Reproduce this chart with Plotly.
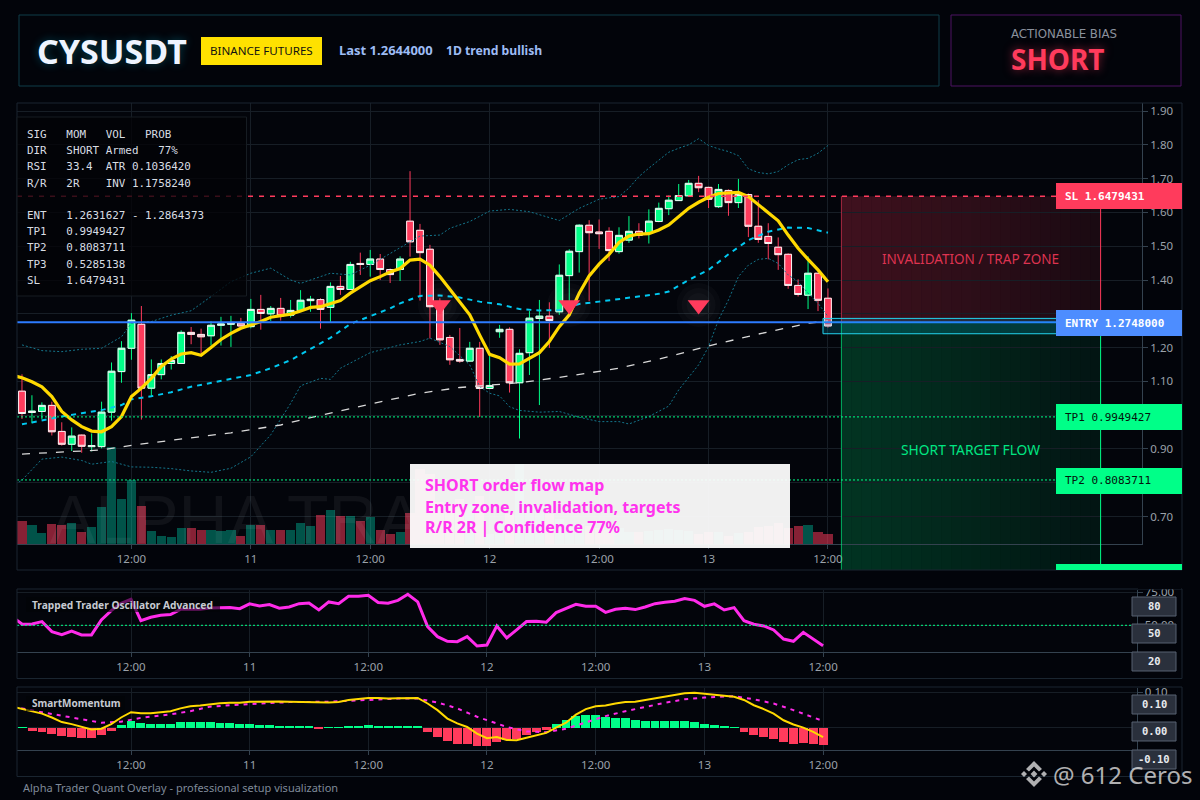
import plotly.graph_objects as go

BG = "#02040a"
RED = "#ff3b5c"
GREEN = "#00ff88"
YELLOW = "#ffd900"
CYAN = "#00c8f0"
MAGENTA = "#ff2bea"
GRID = "#171e26"
AXIS = "#34424f"
TICK = "#9aa1a9"
SANS = "Noto Sans"
MONO = "DejaVu Sans Mono"

# candles
OPEN = [1.071, 1.008, 1.011, 1.029, .952, .914, .941, .907, .907, 1.009, 1.129, 1.198, 1.269, 1.080, 1.120, 1.153, 1.153,
        1.245, 1.239, 1.235, 1.266, 1.269, 1.272, 1.262, 1.313, 1.300, 1.316, 1.296, 1.310, 1.339, 1.342, 1.319, 1.381,
        1.372, 1.449, 1.446, 1.462, 1.431, 1.431, 1.574, 1.547, 1.491, 1.321, 1.230, 1.165, 1.160, 1.198, 1.079, 1.247,
        1.254, 1.096, 1.185, 1.286, 1.293, 1.306, 1.413, 1.484, 1.562, 1.542, 1.544, 1.484, 1.518, 1.544, 1.538, 1.573,
        1.611, 1.635, 1.649, 1.686, 1.674, 1.617, 1.665, 1.629, 1.653, 1.559, 1.529, 1.497, 1.476, 1.384, 1.355, 1.420, 1.346]
HIGH = [1.121, 1.059, 1.038, 1.040, .979, .964, .943, .946, 1.040, 1.156, 1.219, 1.302, 1.323, 1.165, 1.165, 1.175, 1.251,
        1.261, 1.256, 1.278, 1.291, 1.294, 1.288, 1.344, 1.356, 1.323, 1.347, 1.341, 1.370, 1.353, 1.346, 1.393, 1.412,
        1.454, 1.481, 1.489, 1.477, 1.434, 1.470, 1.722, 1.566, 1.504, 1.346, 1.237, 1.258, 1.217, 1.217, 1.180, 1.267,
        1.260, 1.195, 1.308, 1.341, 1.334, 1.446, 1.491, 1.565, 1.577, 1.579, 1.556, 1.556, 1.589, 1.568, 1.609, 1.629,
        1.650, 1.684, 1.696, 1.708, 1.676, 1.684, 1.668, 1.699, 1.656, 1.636, 1.568, 1.526, 1.479, 1.402, 1.470, 1.420, 1.375]
LOW = [.989, .976, .988, .940, .910, .894, .889, .893, .902, .984, 1.096, 1.164, .987, 1.056, 1.106, 1.135, 1.152,
       1.210, 1.183, 1.206, 1.206, 1.202, 1.262, 1.257, 1.253, 1.279, 1.280, 1.289, 1.305, 1.306, 1.256, 1.276, 1.356,
       1.370, 1.415, 1.410, 1.400, 1.391, 1.397, 1.469, 1.339, 1.227, 1.208, 1.149, 1.155, 1.159, .995, 1.077, 1.229,
       1.067, .931, 1.119, 1.030, 1.199, 1.297, 1.321, 1.422, 1.338, 1.492, 1.456, 1.478, 1.510, 1.523, 1.508, 1.571,
       1.592, 1.634, 1.648, 1.660, 1.613, 1.613, 1.590, 1.613, 1.527, 1.510, 1.461, 1.430, 1.374, 1.351, 1.314, 1.308, 1.259]
CLOSE = [1.005, 1.012, 1.029, .951, .914, .938, .908, .910, 1.009, 1.130, 1.198, 1.281, 1.080, 1.120, 1.153, 1.162, 1.245,
         1.239, 1.232, 1.266, 1.270, 1.272, 1.264, 1.313, 1.301, 1.316, 1.294, 1.310, 1.340, 1.343, 1.313, 1.381, 1.372,
         1.446, 1.446, 1.462, 1.431, 1.416, 1.462, 1.513, 1.481, 1.321, 1.223, 1.164, 1.160, 1.198, 1.079, 1.088, 1.254,
         1.096, 1.183, 1.287, 1.293, 1.280, 1.414, 1.485, 1.562, 1.540, 1.537, 1.487, 1.532, 1.544, 1.532, 1.574, 1.612,
         1.636, 1.650, 1.686, 1.673, 1.639, 1.668, 1.629, 1.653, 1.559, 1.520, 1.508, 1.475, 1.384, 1.357, 1.420, 1.340, 1.264]
VOLUME = [23, 19, 11, 20, 19, 21, 12, 17, 37, 97, 45, 64, 38, 13, 8, 7, 16, 16, 14, 14, 13, 14, 8, 19, 19, 14, 14, 14, 21, 18,
          29, 34, 28, 28, 23, 27, 14, 10, 12, 31, 75, 70, 42, 40, 45, 40, 48, 10, 22, 30, 80, 40, 38, 30, 25, 20, 20, 18, 16, 14,
          16, 12, 12, 13, 14, 15, 14, 13, 10, 12, 12, 8, 11, 12, 17, 18, 21, 16, 18, 19, 12, 10]

# overlays
EMA_IDX = list(range(-1, 82))
EMA = [1.118, 1.111, 1.099, 1.084, 1.055, 1.011, .986, .966, .953, .951, .966, .996, 1.055, 1.080, 1.109, 1.144, 1.166, 1.181,
       1.185, 1.177, 1.200, 1.224, 1.242, 1.257, 1.267, 1.277, 1.290, 1.295, 1.299, 1.308, 1.319, 1.321, 1.331, 1.339, 1.361,
       1.380, 1.398, 1.410, 1.424, 1.434, 1.459, 1.462, 1.444, 1.410, 1.373, 1.336, 1.297, 1.237, 1.180, 1.170, 1.151, 1.152,
       1.168, 1.185, 1.218, 1.262, 1.297, 1.361, 1.412, 1.447, 1.476, 1.511, 1.530, 1.536, 1.537, 1.548, 1.563, 1.587, 1.612,
       1.630, 1.645, 1.656, 1.658, 1.659, 1.647, 1.622, 1.599, 1.575, 1.533, 1.494, 1.461, 1.430, 1.395]
MID_IDX = [0, 2, 4, 6, 8, 10, 11, 13, 15, 17, 19, 21, 23, 25, 27, 29, 31, 33, 35, 37, 38, 40, 42, 44, 46, 48, 50, 52, 54, 56,
           58, 60, 62, 64, 65, 67, 69, 71, 73, 75, 77, 79, 81]
MID = [.973, .985, .996, 1.006, 1.015, 1.030, 1.047, 1.056, 1.068, 1.084, 1.096, 1.106, 1.119, 1.139, 1.163, 1.196, 1.229,
       1.270, 1.294, 1.316, 1.331, 1.353, 1.354, 1.348, 1.336, 1.328, 1.314, 1.310, 1.311, 1.329, 1.336, 1.343, 1.351, 1.359,
       1.366, 1.400, 1.430, 1.476, 1.518, 1.543, 1.555, 1.554, 1.540]
UPPER_IDX = [0, 2, 4, 6, 8, 10, 11, 13, 15, 17, 19, 21, 23, 25, 27, 28, 31, 33, 35, 37, 38, 40, 42, 43, 45, 47, 49, 51, 54, 56,
             58, 60, 61, 62, 63, 64, 65, 66, 67, 68, 69, 70, 71, 72, 73, 74, 75, 76, 77, 78, 79, 80, 81]
UPPER = [1.208, 1.191, 1.188, 1.195, 1.198, 1.232, 1.272, 1.277, 1.296, 1.309, 1.351, 1.395, 1.420, 1.435, 1.400, 1.390, 1.420,
         1.415, 1.444, 1.479, 1.494, 1.530, 1.533, 1.553, 1.573, 1.604, 1.609, 1.602, 1.576, 1.612, 1.639, 1.647, 1.672, 1.706,
         1.731, 1.755, 1.778, 1.790, 1.800, 1.818, 1.798, 1.788, 1.780, 1.768, 1.729, 1.718, 1.714, 1.721, 1.741, 1.756, 1.760,
         1.775, 1.798]
LOWER_IDX = [-1, 0, 2, 4, 6, 7, 9, 11, 13, 15, 17, 19, 21, 23, 25, 27, 28, 30, 31, 32, 35, 38, 40, 41, 43, 45, 46, 47, 48, 49, 50,
             52, 54, 56, 58, 60, 61, 63, 65, 66, 68, 69, 70, 71, 72, 73, 74, 75, 76, 77, 78, 79, 80, 81]
LOWER = [.790, .808, .870, .876, .866, .855, .863, .847, .846, .842, .835, .831, .843, .877, .942, 1.035, 1.087, 1.109, 1.106,
         1.139, 1.185, 1.208, 1.218, 1.228, 1.203, 1.149, 1.085, 1.065, 1.057, 1.025, 1.014, 1.009, 1.011, .994, .981, .981,
         .974, .996, 1.027, 1.075, 1.149, 1.203, 1.282, 1.341, 1.410, 1.444, 1.461, 1.464, 1.449, 1.415, 1.395, 1.361, 1.331, 1.292]
SLOW_IDX = [0, 8, 11, 15, 21, 26, 29, 35, 40, 44, 50, 55, 60, 65, 69, 74, 79, 81]
SLOW = [.885, .897, .911, .925, .948, .971, .993, 1.033, 1.065, 1.082, 1.096, 1.116, 1.139, 1.173, 1.205, 1.240, 1.272, 1.279]
SIGNAL_IDX = [42, 55, 68]
SIGNAL_PRICE = [1.326, 1.326, 1.326]

# oscillator panels
OSC_IDX = list(range(-1, 82))
OSC = [56.3, 50.8, 51.0, 52.8, 45.2, 42.9, 45.7, 42.7, 42.7, 54.0, 61.1, 66.7, 69.7, 53.5, 56.1, 57.6, 58.1, 62.1, 62.1, 62.1,
       63.1, 63.1, 63.4, 62.6, 66.2, 64.6, 65.7, 62.9, 63.9, 66.4, 66.9, 61.6, 67.7, 66.4, 72.0, 72.0, 72.7, 67.2, 66.7, 68.9,
       73.5, 67.7, 49.0, 41.4, 37.9, 37.6, 41.4, 34.3, 35.1, 49.5, 40.4, 46.5, 52.8, 53.0, 52.3, 59.6, 62.9, 65.9, 64.4, 64.4,
       59.8, 62.1, 62.9, 61.9, 63.9, 66.4, 67.4, 68.2, 70.2, 68.9, 64.4, 66.2, 61.6, 63.4, 53.5, 50.8, 49.5, 46.5, 39.6, 37.9,
       44.7, 39.4, 34.6]
MOM_HIST = [.001, -.0086, -.0115, -.017, -.023, -.026, -.029, -.029, -.020, -.0086, .0086, .020, .0144, .0115, .0115, .0115,
            .0173, .0173, .0173, .0173, .0144, .0144, .0115, .0115, .0086, .0086, .0058, .0029, .0029, .0029, -.001, .001, .001,
            .0058, .0058, .0086, .0058, .0029, .0029, .0029, .0029, -.0106, -.026, -.037, -.046, -.046, -.052, -.052, -.040,
            -.0346, -.032, -.020, -.0134, -.005, .0115, .023, .0346, .0374, .0374, .032, .029, .029, .023, .020, .020, .020,
            .020, .020, .0173, .0115, .0086, .003, .001, -.0115, -.020, -.026, -.032, -.040, -.046, -.043, -.046, -.049]
MOM_IDX = list(range(-1, 82))
MOM = [.059, .052, .044, .039, .028, .015, .009, .001, -.006, -.004, .009, .028, .043, .040, .040, .043, .046, .054, .060, .062,
       .066, .069, .070, .070, .073, .074, .075, .074, .073, .072, .071, .070, .071, .072, .078, .081, .084, .084, .082, .083,
       .084, .084, .068, .049, .025, .011, .001, -.018, -.031, -.028, -.036, -.037, -.030, -.023, -.016, -.001, .013, .036, .052,
       .060, .062, .068, .072, .073, .078, .083, .087, .091, .097, .099, .096, .095, .091, .087, .078, .063, .052, .039, .020,
       .008, -.001, -.013, -.028]
MOM_SIG_IDX = [-1, 0, 2, 4, 6, 8, 10, 12, 15, 17, 19, 21, 23, 27, 31, 35, 38, 40, 42, 44, 46, 48, 49, 51, 53, 55, 57, 59, 61, 63,
               65, 67, 69, 72, 74, 76, 78, 81]
MOM_SIG = [.057, .054, .043, .034, .023, .013, .016, .027, .037, .046, .059, .063, .066, .072, .073, .078, .082, .082, .071, .054,
           .030, .011, .001, -.012, -.014, -.004, .015, .032, .046, .059, .070, .080, .085, .089, .080, .068, .049, .018]

X_TICKS = [11, 23, 35, 47, 58, 69, 81]
X_LABELS = ["12:00", "11", "12:00", "12", "12:00", "13", "12:00"]
PRICE_TICKS = [1.9, 1.8, 1.7, 1.6, 1.5, 1.4, 1.3, 1.2, 1.1, 1.0, 0.9, 0.8, 0.7]
SL = 1.6479431
ENTRY = 1.2748
ENTRY_HIGH = 1.2864
ENTRY_LOW = 1.241
TP1 = 0.9949427
TP2 = 0.8083711
TP3 = 0.5285138
ZONE_LEFT = 82.35
ZONE_RIGHT = 108.4
PANEL_LINES = ["SIG   MOM   VOL   PROB", "DIR   SHORT Armed   77%", "RSI   33.4  ATR 0.1036420", "R/R   2R    INV 1.1758240", "",
               "ENT   1.2631627 - 1.2864373", "TP1   0.9949427", "TP2   0.8083711", "TP3   0.5285138", "SL    1.6479431"]
NOTE_LINES = ["SHORT order flow map", "Entry zone, invalidation, targets", "R/R 2R | Confidence 77%"]
PRICE_RANGE = [0.6189, 1.9237]


def X(px):
    return px / 1200


def Y(px):
    return 1 - px / 800


def price_y(p):
    # main price axis in paper coordinates, needed where a zone runs below the plot
    return Y(544) + (p - PRICE_RANGE[0]) / (PRICE_RANGE[1] - PRICE_RANGE[0]) * (Y(103) - Y(544))


def box(x0, y0, x1, y1, fill="rgba(0,0,0,0)", line="rgba(0,0,0,0)", width=1, layer="above"):
    return dict(type="rect", xref="paper", yref="paper", x0=X(x0), x1=X(x1), y0=Y(y0), y1=Y(y1), fillcolor=fill,
                line=dict(color=line, width=width), layer=layer)


def label(text, x, y, size, color, font=SANS, anchor="left", shadow=None):
    f = dict(size=size, color=color, family=font)
    if shadow:
        f["shadow"] = shadow
    if anchor == "left":
        x -= 2
    return dict(text=text, xref="paper", yref="paper", x=X(x), y=Y(y), xanchor=anchor, yanchor="middle", showarrow=False, font=f)


up = [c >= o for o, c in zip(OPEN, CLOSE)]
idx = list(range(len(OPEN)))
body_hi = [max(o, c) for o, c in zip(OPEN, CLOSE)]
body_lo = [min(o, c) for o, c in zip(OPEN, CLOSE)]

fig = go.Figure()
fig.add_bar(x=idx, y=VOLUME, width=0.92, xaxis="x", yaxis="y", showlegend=False,
            marker=dict(color=["rgba(0,230,190,0.35)" if u else "rgba(255,59,92,0.52)" for u in up], line=dict(width=0)))
fig.add_candlestick(x=idx, open=OPEN, high=HIGH, low=LOW, close=CLOSE, xaxis="x", yaxis="y2", showlegend=False,
                    increasing=dict(line=dict(color=GREEN, width=1), fillcolor=GREEN),
                    decreasing=dict(line=dict(color=RED, width=1), fillcolor=RED))
fig.add_candlestick(x=idx, open=OPEN, high=body_hi, low=body_lo, close=CLOSE, xaxis="x", yaxis="y2", showlegend=False,
                    increasing=dict(line=dict(color="#f4f4f4", width=1), fillcolor=GREEN),
                    decreasing=dict(line=dict(color="#f4f4f4", width=1), fillcolor=RED))
fig.add_scatter(x=UPPER_IDX, y=UPPER, yaxis="y2", mode="lines", line=dict(color="#14768c", width=1, dash="2px,2px"), showlegend=False)
fig.add_scatter(x=LOWER_IDX, y=LOWER, yaxis="y2", mode="lines", line=dict(color="#14768c", width=1, dash="2px,2px"), showlegend=False)
fig.add_scatter(x=SLOW_IDX, y=SLOW, yaxis="y2", mode="lines", line=dict(color="#d9d9d9", width=1.3, dash="8px,9px"), showlegend=False)
fig.add_scatter(x=MID_IDX, y=MID, yaxis="y2", mode="lines", line=dict(color=CYAN, width=2, dash="5px,5px"), showlegend=False)
fig.add_scatter(x=EMA_IDX, y=EMA, yaxis="y2", mode="lines", line=dict(color=YELLOW, width=3.2), showlegend=False)
for halo in [44, 34, 24]:
    fig.add_scatter(x=SIGNAL_IDX, y=SIGNAL_PRICE, yaxis="y2", mode="markers", showlegend=False,
                    marker=dict(symbol="circle", size=halo, color="rgba(255,255,255,0.022)", line=dict(width=0)))
fig.add_scatter(x=SIGNAL_IDX, y=SIGNAL_PRICE, yaxis="y2", mode="markers", showlegend=False,
                marker=dict(symbol="triangle-down", size=19, color=RED, line=dict(width=0)))

fig.add_scatter(x=OSC_IDX, y=OSC, xaxis="x3", yaxis="y3", mode="lines", line=dict(color=MAGENTA, width=3), showlegend=False)
fig.add_bar(x=idx, y=MOM_HIST, width=0.9, xaxis="x4", yaxis="y4", showlegend=False,
            marker=dict(color=[GREEN if v >= 0 else RED for v in MOM_HIST], line=dict(width=0)))
fig.add_scatter(x=MOM_SIG_IDX, y=MOM_SIG, xaxis="x4", yaxis="y4", mode="lines", line=dict(color=MAGENTA, width=2, dash="4px,5px"), showlegend=False)
fig.add_scatter(x=MOM_IDX, y=MOM, xaxis="x4", yaxis="y4", mode="lines", line=dict(color=YELLOW, width=2), showlegend=False)

shapes = []
# zones fade towards the right
steps = 26
step = (ZONE_RIGHT - ZONE_LEFT) / steps
for i in range(steps):
    left = ZONE_LEFT + i * step
    shapes.append(dict(type="rect", xref="x", yref="y2", x0=left, x1=left + step, y0=ENTRY, y1=SL, layer="below", line=dict(width=0),
                       fillcolor="rgba(255,59,92,%.3f)" % (0.24 - 0.15 * i / steps)))
    shapes.append(dict(type="rect", xref="x", yref="paper", x0=left, x1=left + step, y0=Y(570), y1=price_y(ENTRY), layer="below", line=dict(width=0),
                       fillcolor="rgba(0,255,136,%.3f)" % (0.19 - 0.13 * i / steps)))
for xv, col in [(ZONE_LEFT, "rgba(255,59,92,0.6)"), (ZONE_RIGHT, RED)]:
    shapes.append(dict(type="line", xref="x", yref="y2", x0=xv, x1=xv, y0=ENTRY, y1=SL, layer="above", line=dict(color=col, width=1)))
for xv, col in [(ZONE_LEFT, "rgba(0,255,136,0.65)"), (ZONE_RIGHT, GREEN)]:
    shapes.append(dict(type="line", xref="x", yref="paper", x0=xv, x1=xv, y0=Y(570), y1=price_y(ENTRY), layer="above", line=dict(color=col, width=1)))

for p, col, w, dash in [(SL, RED, 1.5, "5px,6px"), (ENTRY, "#2d7bff", 2, "solid"), (TP1, GREEN, 1, "2px,2px"), (TP2, GREEN, 1, "2px,2px")]:
    shapes.append(dict(type="line", xref="paper", yref="y2", x0=X(17), x1=X(1056), y0=p, y1=p, layer="above", line=dict(color=col, width=w, dash=dash)))
shapes.append(dict(type="rect", xref="x", yref="y2", x0=80.5, x1=104, y0=ENTRY_LOW, y1=ENTRY_HIGH, layer="above",
                   fillcolor="rgba(0,190,225,0.18)", line=dict(color="#22d3ee", width=1)))
shapes.append(dict(type="line", xref="paper", yref="y3", x0=X(17), x1=X(1136), y0=50, y1=50, layer="above", line=dict(color=GREEN, width=1, dash="2px,2px")))

# header and frames
shapes += [
    box(19, 15, 939, 86, line="#0e3d48"),
    box(951, 15, 1181, 86, line="#4c1262"),
    box(201, 37, 322, 65, fill="#ffe100"),
    box(17, 103, 1182, 570, line="#1a2530"),
    box(17, 589, 1182, 678.5, line="#1a2530"),
    box(17, 687, 1182, 776.5, line="#1a2530"),
    box(17, 117, 246.5, 296, fill="rgba(2,3,6,0.78)", line="#161c22"),
    box(410, 464, 790, 548, fill="rgba(255,255,255,0.94)"),
    box(1056, 183, 1182, 209, fill=RED),
    box(1056, 310, 1182, 336, fill="#4d8dff"),
    box(1056, 404, 1182, 430, fill=GREEN),
    box(1056, 468, 1182, 494, fill=GREEN),
    box(1056, 564, 1182, 570, fill=GREEN),
    box(26, 597, 220, 612, fill="rgba(2,3,6,0.6)"),
    box(26, 696, 125, 711, fill="rgba(2,3,6,0.6)"),
    box(1138, 580, 1181, 589, fill=BG),
]
for top in [597, 624, 652, 695, 722, 750]:
    shapes.append(box(1132, top, 1176, top + 19, fill="#2a303c", line="#566070"))


def poly(points):
    return dict(type="path", xref="paper", yref="paper", layer="above", line=dict(width=0), fillcolor="rgba(225,225,225,0.78)",
                path="M" + " L".join("%.5f,%.5f" % (X(a), Y(b)) for a, b in points) + " Z")


# exchange logo next to the watermark
cx, cy = 1034, 774
shapes += [
    poly([(cx, cy - 3.4), (cx + 3.4, cy), (cx, cy + 3.4), (cx - 3.4, cy)]),
    poly([(cx - 13, cy), (cx - 10, cy - 3), (cx - 7, cy), (cx - 10, cy + 3)]),
    poly([(cx + 13, cy), (cx + 10, cy - 3), (cx + 7, cy), (cx + 10, cy + 3)]),
    poly([(cx, cy - 13), (cx + 8, cy - 5), (cx + 5, cy - 2.5), (cx, cy - 7.5), (cx - 5, cy - 2.5), (cx - 8, cy - 5)]),
    poly([(cx, cy + 13), (cx + 8, cy + 5), (cx + 5, cy + 2.5), (cx, cy + 7.5), (cx - 5, cy + 2.5), (cx - 8, cy + 5)]),
]

notes = [
    label("ALPHA TRADER", 50, 519, 68, "rgba(255,255,255,0.055)", font="Liberation Sans"),
    label("<b>CYSUSDT</b>", 37, 51, 34, "#eef4ff", shadow="0 0 10px rgba(0,220,255,0.3)"),
    label("BINANCE FUTURES", 261.5, 51, 11.6, "#111111", anchor="center"),
    label("<b>Last 1.2644000</b>", 339, 50.5, 13, "#9dbcf5"),
    label("<b>1D trend bullish</b>", 446, 50.5, 12.2, "#9dbcf5"),
    label("ACTIONABLE BIAS", 1011, 34, 11.8, "#8a909c", font="DejaVu Sans"),
    label("<b>SHORT</b>", 1011, 59, 28, RED, shadow="0 0 10px rgba(255,59,92,0.55)"),
    label("INVALIDATION / TRAP ZONE", 970, 259, 13.5, "rgba(255,59,92,0.85)", anchor="center"),
    label("SHORT TARGET FLOW", 970, 449, 13.8, "#00e682", anchor="center"),
    label("<b>Trapped Trader Oscillator Advanced</b>", 32, 605, 10.2, "#c6cad2"),
    label("<b>SmartMomentum</b>", 32, 703, 10, "#c6cad2"),
    label("Alpha Trader Quant Overlay - professional setup visualization", 23, 787, 11, "#7f8a99"),
    label("@ 612 Ceros", 1053, 774, 24, "rgba(225,225,225,0.78)"),
]
for row, line in zip([134, 150.5, 166.5, 183, 199, 215, 231, 247, 264, 280], PANEL_LINES):
    if line:
        notes.append(label(line, 27, row, 10.9, "#d8dde3", font=MONO))
for row, line in zip([485, 506.5, 526.5], NOTE_LINES):
    notes.append(label("<b>%s</b>" % line, 425, row, 16, "#ff33ee"))
for row, text, col in [(196, "SL 1.6479431", "#ffffff"), (323, "ENTRY 1.2748000", "#ffffff"), (417, "TP1 0.9949427", "#04140c"), (481, "TP2 0.8083711", "#04140c")]:
    notes.append(label("<b>%s</b>" % text if col == "#ffffff" else text, 1065, row, 11, col, font=MONO))
for row, text in [(606, "80"), (633, "50"), (661, "20"), (704, "0.10"), (731, "0.00"), (759, "-0.10")]:
    notes.append(label("<b>%s</b>" % text, 1154, row, 10.5, "#e8eaee", font=MONO, anchor="center"))

tickfont = dict(size=11.5, color=TICK, family=SANS)
x_common = dict(tickmode="array", tickvals=X_TICKS, ticktext=X_LABELS, showgrid=True, gridcolor=GRID, gridwidth=1, zeroline=False, automargin=False,
                showline=True, linecolor=AXIS, linewidth=1, ticks="outside", ticklen=4, tickcolor=AXIS, tickfont=tickfont)
y_common = dict(side="right", showgrid=True, gridcolor=GRID, gridwidth=1, zeroline=False, showline=True, linecolor=AXIS, linewidth=1, automargin=False,
                ticks="outside", ticklen=5, tickcolor=AXIS, tickfont=tickfont, tickformat=".2f", tickmode="array")

fig.update_layout(
    width=1200, height=800, margin=dict(l=0, r=0, t=0, b=0), paper_bgcolor=BG, plot_bgcolor="#03050b",
    showlegend=False, bargap=0, boxmode="overlay", boxgap=0.32, boxgroupgap=0,
    shapes=shapes, annotations=notes,
    xaxis=dict(domain=[X(17), X(1142)], range=[-0.5, 112.56], anchor="y", rangeslider=dict(visible=False), **x_common),
    yaxis=dict(domain=[Y(544), Y(103)], range=[0, 441], visible=False, showgrid=False, fixedrange=True, automargin=False),
    yaxis2=dict(domain=[Y(544), Y(103)], range=PRICE_RANGE, overlaying="y", anchor="x", tickvals=PRICE_TICKS, **y_common),
    xaxis3=dict(domain=[X(17), X(1136.5)], range=[-0.53, 112.7], anchor="y3", **x_common),
    yaxis3=dict(domain=[Y(652), Y(589.5)], range=[29.8, 77.1], anchor="x3", tickvals=[50, 75], **y_common),
    xaxis4=dict(domain=[X(17), X(1136.5)], range=[-0.53, 112.7], anchor="y4", **x_common),
    yaxis4=dict(domain=[Y(750), Y(687.5)], range=[-0.0649, 0.1137], anchor="x4", tickvals=[0, 0.1], **y_common),
)

# the page would otherwise keep the browser's default white margin
fig.write_html("out.html", config={"displayModeBar": False},
               post_script="document.body.style.margin='0';document.body.style.background='%s';" % BG)
